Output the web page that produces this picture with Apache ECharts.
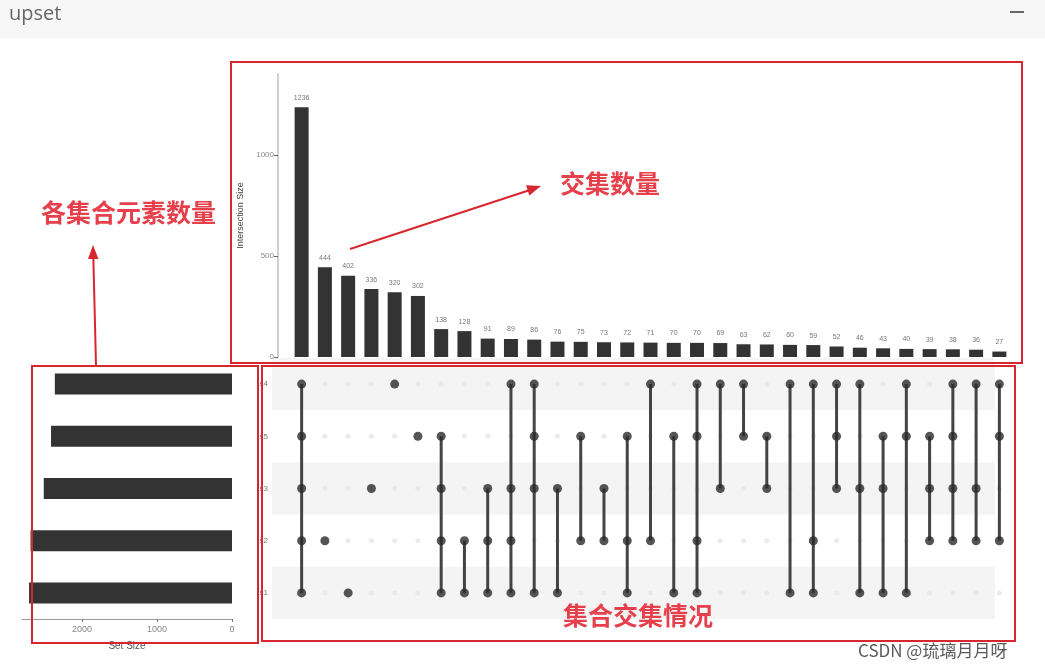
<!DOCTYPE html>
<html>
<head>
<meta charset="utf-8">
<script src="https://cdn.jsdelivr.net/npm/echarts@6/dist/echarts.min.js"></script>
<style>
html,body{margin:0;padding:0;background:#fff;}
#chart{width:1045px;height:670px;}
</style>
</head>
<body>
<div id="chart"></div>
<script>
// ---- data ----
const setNames = ['s1', 's2', 's3', 's5', 's4']; // bottom -> top
const setSizes = [2706, 2686, 2510, 2413, 2362];
const intersectionSizes = [1236, 444, 402, 336, 320, 302, 138, 128, 91, 89, 86, 76, 75, 73, 72, 71, 70, 70, 69, 63, 62, 60, 59, 52, 46, 43, 40, 39, 38, 36, 27];
const intersectionSets = [
  ['s4','s5','s3','s2','s1'], ['s2'], ['s1'], ['s3'], ['s4'], ['s5'],
  ['s5','s3','s2','s1'], ['s2','s1'], ['s3','s2','s1'], ['s4','s3','s2','s1'],
  ['s4','s5','s3','s1'], ['s3','s1'], ['s5','s2'], ['s3','s2'], ['s5','s2','s1'],
  ['s4','s2'], ['s5','s1'], ['s4','s5','s2','s1'], ['s4','s3'], ['s4','s5'],
  ['s5','s3'], ['s4','s1'], ['s4','s2','s1'], ['s4','s5','s3'], ['s4','s3','s1'],
  ['s5','s3','s1'], ['s4','s5','s1'], ['s5','s3','s2'], ['s4','s5','s3','s2'],
  ['s4','s3','s2'], ['s4','s5','s2']
];
const shadedSets = ['s4', 's3', 's1'];
const yTicks = [0, 500, 1000];
const setSizeTicks = [0, 1000, 2000];

// ---- derived for library ----
const cats = intersectionSizes.map((_, i) => 'I' + (i + 1));
const activePts = [], inactivePts = [], segs = [];
intersectionSets.forEach((sets, c) => {
  const rows = [];
  setNames.forEach((s, r) => {
    if (sets.indexOf(s) >= 0) { activePts.push([c, r]); rows.push(r); }
    else inactivePts.push([c, r]);
  });
  if (rows.length > 1) segs.push([c, Math.min(...rows), Math.max(...rows)]);
});
const bandData = shadedSets.map(s => [0, setNames.indexOf(s)]);

const chart = echarts.init(document.getElementById('chart'));
const red = '#d8262f';
const annot = '#e5404c';
const cjk = '"Noto Sans CJK SC", "Noto Sans", sans-serif';
const plain = v => String(v);

chart.setOption({
  animation: false,
  backgroundColor: '#ffffff',
  grid: [
    { left: 290, top: 74, width: 721, height: 283 },
    { left: 290, top: 358, width: 721, height: 261 },
    { left: 22, top: 358, width: 210, height: 261 }
  ],
  xAxis: [
    { type: 'category', gridIndex: 0, data: cats, show: false },
    { type: 'category', gridIndex: 1, data: cats, show: false },
    { type: 'value', gridIndex: 2, inverse: true, min: 0, max: 2800, interval: 1000,
      axisLine: { show: true, lineStyle: { color: '#9a9a9a', width: 1 } },
      axisTick: { show: true, length: 3, lineStyle: { color: '#777' }, customValues: setSizeTicks },
      axisLabel: { fontSize: 9, color: '#888', margin: 6, customValues: setSizeTicks, formatter: plain },
      splitLine: { show: false },
      name: 'Set Size', nameLocation: 'middle', nameGap: 22,
      nameTextStyle: { fontSize: 10, color: '#555' } }
  ],
  yAxis: [
    { type: 'value', gridIndex: 0, min: 0, max: 1400, interval: 500, offset: 12,
      axisLine: { show: true, lineStyle: { color: '#cfcfcf', width: 2 } },
      axisTick: { show: true, length: 4, lineStyle: { color: '#666' }, customValues: yTicks },
      axisLabel: { fontSize: 8, color: '#888', margin: 4, customValues: yTicks, formatter: plain },
      splitLine: { show: false },
      name: 'Intersection Size', nameLocation: 'middle', nameGap: 30,
      nameTextStyle: { fontSize: 9, color: '#444' } },
    { type: 'category', gridIndex: 1, data: setNames,
      axisLine: { show: false }, axisTick: { show: false },
      axisLabel: { fontSize: 8, color: '#777', margin: 22 } },
    { type: 'category', gridIndex: 2, data: setNames, show: false }
  ],
  series: [
    { type: 'bar', xAxisIndex: 0, yAxisIndex: 0, data: intersectionSizes, barWidth: 14,
      itemStyle: { color: '#333333' },
      label: { show: true, position: 'top', fontSize: 7, color: '#777', distance: 6 } },
    { type: 'custom', xAxisIndex: 1, yAxisIndex: 1, data: bandData, silent: true, z: 0,
      renderItem: function (params, api) {
        const cs = params.coordSys;
        const y = api.coord([0, api.value(1)])[1];
        const h = api.size([0, 1])[1];
        return { type: 'rect', shape: { x: cs.x - 18, y: y - h / 2, width: cs.width + 2, height: h },
          style: { fill: '#f4f4f4' } };
      } },
    { type: 'scatter', xAxisIndex: 1, yAxisIndex: 1, data: inactivePts, symbolSize: 5,
      itemStyle: { color: '#e6e6e6' }, z: 2 },
    { type: 'custom', xAxisIndex: 1, yAxisIndex: 1, data: segs, z: 3,
      renderItem: function (params, api) {
        const p1 = api.coord([api.value(0), api.value(1)]);
        const p2 = api.coord([api.value(0), api.value(2)]);
        return { type: 'line', shape: { x1: p1[0], y1: p1[1], x2: p2[0], y2: p2[1] },
          style: { stroke: '#444', lineWidth: 3 } };
      } },
    { type: 'scatter', xAxisIndex: 1, yAxisIndex: 1, data: activePts, symbolSize: 9,
      itemStyle: { color: '#2b2b2b' }, z: 4 },
    { type: 'bar', xAxisIndex: 2, yAxisIndex: 2, data: setSizes, barWidth: 21,
      itemStyle: { color: '#333333' } }
  ],
  graphic: [
    { type: 'rect', shape: { x: 0, y: 0, width: 1045, height: 38 }, style: { fill: '#f7f7f7' }, z: -10 },
    { type: 'text', x: 9, y: 14, style: { text: 'upset', fontSize: 20, fill: '#666', fontFamily: '"Open Sans", sans-serif', verticalAlign: 'middle' } },
    { type: 'line', shape: { x1: 1010, y1: 12, x2: 1024, y2: 12 }, style: { stroke: '#666', lineWidth: 2 } },
    // red boxes
    { type: 'rect', shape: { x: 231, y: 62, width: 791, height: 301 }, style: { fill: 'none', stroke: red, lineWidth: 2 }, z: 50 },
    { type: 'rect', shape: { x: 262, y: 366, width: 753, height: 275 }, style: { fill: 'none', stroke: red, lineWidth: 2 }, z: 50 },
    { type: 'rect', shape: { x: 32, y: 366, width: 226, height: 277 }, style: { fill: 'none', stroke: red, lineWidth: 2 }, z: 50 },
    // arrows
    { type: 'line', shape: { x1: 350, y1: 249, x2: 530, y2: 190 }, style: { stroke: red, lineWidth: 2 }, z: 50 },
    { type: 'polygon', shape: { points: [[541, 186], [529.3, 195.6], [526.1, 185.2]] }, style: { fill: red }, z: 50 },
    { type: 'line', shape: { x1: 96, y1: 365, x2: 93.3, y2: 256 }, style: { stroke: red, lineWidth: 2 }, z: 50 },
    { type: 'polygon', shape: { points: [[93, 245], [88, 259], [98.5, 259]] }, style: { fill: red }, z: 50 },
    // annotations
    { type: 'text', x: 560, y: 183, style: { text: '交集数量', fontSize: 25, fontWeight: 'bold', fill: annot, fontFamily: cjk, verticalAlign: 'middle' }, z: 50 },
    { type: 'text', x: 41, y: 212, style: { text: '各集合元素数量', fontSize: 25, fontWeight: 'bold', fill: annot, fontFamily: cjk, verticalAlign: 'middle' }, z: 50 },
    { type: 'text', x: 563, y: 615, style: { text: '集合交集情况', fontSize: 25, fontWeight: 'bold', fill: annot, fontFamily: cjk, verticalAlign: 'middle' }, z: 50 },
    { type: 'text', x: 858, y: 651, style: { text: 'CSDN @琉璃月月呀', fontSize: 17, fill: '#5a5a5a', fontFamily: cjk, verticalAlign: 'middle' }, z: 50 }
  ]
});
</script>
</body>
</html>
